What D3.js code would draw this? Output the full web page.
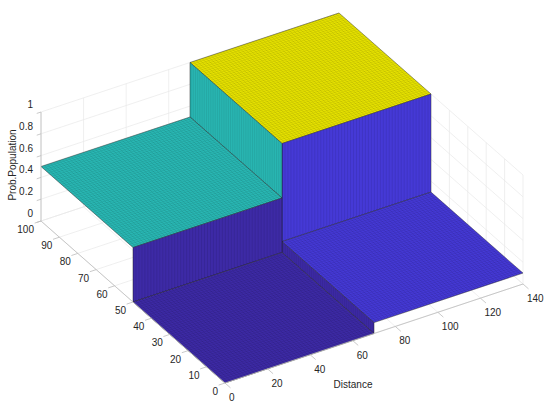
<!DOCTYPE html>
<html><head><meta charset="utf-8">
<script src="https://cdn.jsdelivr.net/npm/d3@7"></script>
<style>body{margin:0;background:#fff}text{font-family:'Liberation Sans',Arial,sans-serif;font-size:10px;fill:#262626}</style>
</head><body>
<svg id="c" width="550" height="412"></svg>
<script>
// step surface: breakpoints along each axis and the level of each cell
const distBreaks = [0, 70, 140]
const popBreaks = [0, 50, 100]
const levels = [[0, 0.1], [0.5, 1]]   // rows = popBreaks cells, cols = distBreaks cells
const xTicks = [0, 20, 40, 60, 80, 100, 120, 140]
const yTicks = [0, 10, 20, 30, 40, 50, 60, 70, 80, 90, 100]
const zTicks = [0, 0.2, 0.4, 0.6, 0.8, 1]

const svg = d3.select('#c')
const sx = d3.scaleLinear().domain([0, 140]).range([0, 1])
const sy = d3.scaleLinear().domain([0, 100]).range([0, 1])
const sz = d3.scaleLinear().domain([0, 1]).range([0, 1])
const O = [225, 383], EX = [298, -99], EY = [-184, -162], EZ = [0, -109]
function P(x, y, z) {
  const a = sx(x), b = sy(y), c = sz(z)
  return [O[0] + a * EX[0] + b * EY[0] + c * EZ[0], O[1] + a * EX[1] + b * EY[1] + c * EZ[1]]
}
const color = d3.scaleLinear().domain([0, 0.1, 0.5, 1])
  .range(['#3d2aa6', '#4539d6', '#29b8b4', '#e6e200'])

// background grid
const grid = svg.append('g').attr('stroke', '#e8e8e8').attr('stroke-width', 0.7).attr('fill', 'none')
function seg(g, a, b) { g.append('line').attr('x1', a[0]).attr('y1', a[1]).attr('x2', b[0]).attr('y2', b[1]) }
xTicks.forEach(t => { seg(grid, P(t, 0, 0), P(t, 100, 0)); seg(grid, P(t, 100, 0), P(t, 100, 1)) })
yTicks.forEach(t => { seg(grid, P(0, t, 0), P(140, t, 0)); seg(grid, P(140, t, 0), P(140, t, 1)) })
zTicks.forEach(t => { seg(grid, P(0, 100, t), P(140, 100, t)); seg(grid, P(140, 100, t), P(140, 0, t)) })

// build faces
const faces = []
for (let j = 0; j < 2; j++) for (let i = 0; i < 2; i++) {
  const x0 = distBreaks[i], x1 = distBreaks[i + 1], y0 = popBreaks[j], y1 = popBreaks[j + 1], z = levels[j][i]
  faces.push({ depth: sx((x0 + x1) / 2) + sy((y0 + y1) / 2), c: z, kind: 'top', x0, x1, y0, y1, z })
  if (i + 1 < 2 && levels[j][i + 1] !== z)
    faces.push({ depth: sx(x1) + sy((y0 + y1) / 2), c: z, kind: 'wx', x: x1, y0, y1, za: z, zb: levels[j][i + 1] })
  if (j + 1 < 2 && levels[j + 1][i] !== z)
    faces.push({ depth: sx((x0 + x1) / 2) + sy(y1), c: z, kind: 'wy', y: y1, x0, x1, za: z, zb: levels[j + 1][i] })
}
faces.sort((a, b) => b.depth - a.depth)

const line = d3.line()
const surf = svg.append('g')
faces.forEach(f => {
  let corners, mesh = []
  if (f.kind === 'top') {
    corners = [P(f.x0, f.y0, f.z), P(f.x1, f.y0, f.z), P(f.x1, f.y1, f.z), P(f.x0, f.y1, f.z)]
    for (let x = f.x0; x <= f.x1; x += 1.4) mesh.push([P(x, f.y0, f.z), P(x, f.y1, f.z)])
    for (let y = f.y0; y <= f.y1; y += 1) mesh.push([P(f.x0, y, f.z), P(f.x1, y, f.z)])
  } else if (f.kind === 'wx') {
    corners = [P(f.x, f.y0, f.za), P(f.x, f.y1, f.za), P(f.x, f.y1, f.zb), P(f.x, f.y0, f.zb)]
    for (let y = f.y0; y <= f.y1; y += 1) mesh.push([P(f.x, y, f.za), P(f.x, y, f.zb)])
  } else {
    corners = [P(f.x0, f.y, f.za), P(f.x1, f.y, f.za), P(f.x1, f.y, f.zb), P(f.x0, f.y, f.zb)]
    for (let x = f.x0; x <= f.x1; x += 1.4) mesh.push([P(x, f.y, f.za), P(x, f.y, f.zb)])
  }
  surf.append('path').attr('d', line(corners) + 'Z').attr('fill', color(f.c))
    .attr('stroke', '#222').attr('stroke-width', 0.4)
  const m = surf.append('g').attr('stroke', '#000').attr('stroke-opacity', 0.22).attr('stroke-width', 0.4)
  mesh.forEach(s => seg(m, s[0], s[1]))
})

// axes
const ax = svg.append('g').attr('stroke', '#bdbdbd').attr('stroke-width', 0.8)
seg(ax, P(0, 0, 0), P(140, 0, 0))
seg(ax, P(0, 0, 0), P(0, 100, 0))
seg(ax, P(0, 100, 0), P(0, 100, 1))
xTicks.forEach(t => {
  seg(ax, P(t, 0, 0), P(t, -3, 0))
  const p = P(t, 0, 0)
  svg.append('text').attr('x', p[0] + 4).attr('y', p[1] + 18).text(t)
})
yTicks.forEach(t => {
  seg(ax, P(0, t, 0), P(-3, t, 0))
  const p = P(0, t, 0)
  svg.append('text').attr('x', p[0] - 7).attr('y', p[1] + 12).attr('text-anchor', 'end').text(t)
})
zTicks.forEach(t => {
  seg(ax, P(0, 100, t), P(-2, 100, t))
  const p = P(0, 100, t)
  svg.append('text').attr('x', p[0] - 8).attr('y', p[1] - 4).attr('text-anchor', 'end').text(t)
})
svg.append('text').attr('x', 353).attr('y', 388).attr('text-anchor', 'middle').attr('font-size', 11).text('Distance')
svg.append('text').attr('transform', 'translate(16,165) rotate(-90)').attr('text-anchor', 'middle').attr('font-size', 11).text('Prob.Population')
</script>
</body></html>
